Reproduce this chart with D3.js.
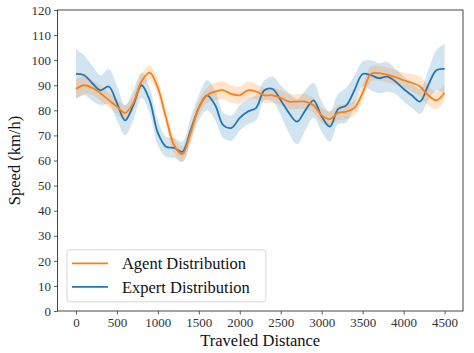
<!DOCTYPE html>
<html>
<head>
<meta charset="utf-8">
<script src="https://cdn.jsdelivr.net/npm/d3@7"></script>
<style>
  body { margin: 0; background: #fff; }
  text { font-family: "Liberation Serif", "Times New Roman", serif; }
</style>
</head>
<body>
<div id="chart"></div>
<script>
const distance = [0, 100, 200, 300, 400, 500, 600, 700, 800, 900,
  1000, 1100, 1200, 1300, 1400, 1500, 1600, 1700, 1800, 1900,
  2000, 2100, 2200, 2300, 2400, 2500, 2600, 2700, 2800, 2900,
  3000, 3100, 3200, 3300, 3400, 3500, 3600, 3700, 3800, 3900,
  4000, 4100, 4200, 4300, 4400, 4500];

const expertMean = [94.5, 94, 90.8, 88, 89.5, 83, 76, 82, 90, 84,
  71, 65.5, 65, 63.5, 72, 81, 86, 82, 74, 73,
  77, 79.5, 81, 88, 88.5, 84, 79, 75.5, 80, 84,
  77.5, 73.5, 80.5, 82, 88, 94.5, 94, 92.8, 93.4, 91.5,
  88.5, 86, 83.5, 90, 96, 96.5];
const expertStd = [10, 8, 7, 6, 7, 7, 6, 6, 5, 5,
  5, 4, 4, 4, 5, 5, 6, 6, 5, 5,
  5, 5, 5, 4, 5, 6, 8, 9, 8, 7,
  6, 6, 6, 7, 6, 5, 6, 6, 6, 5,
  5, 5, 5, 6, 8, 10];

const agentMean = [88.5, 90, 89, 86.8, 84.1, 81.5, 79, 83, 91.5, 95,
  89, 77, 66, 62.5, 71, 81, 86, 87.5, 88, 86.5,
  86, 88, 87.5, 86, 86, 85, 83.5, 83.5, 83.5, 82,
  78, 76.5, 79, 79.5, 81, 87, 94.5, 94.8, 94.2, 93.2,
  92, 91, 89.5, 86, 84, 87];
const agentStd = [4, 3.5, 3, 3, 3, 3, 3, 3, 3, 3,
  3, 3, 3, 3, 3, 3, 3, 3.5, 3.5, 3.5,
  3.5, 3.5, 3, 3, 3, 3, 3, 3, 3, 3,
  3, 3, 3, 3, 3, 3, 3, 3, 3, 3,
  3, 3.5, 4, 4, 3.5, 3.5];

const xTicks = [0, 500, 1000, 1500, 2000, 2500, 3000, 3500, 4000, 4500];
const yTicks = [0, 10, 20, 30, 40, 50, 60, 70, 80, 90, 100, 110, 120];

const series = [
  { name: "Agent Distribution", mean: agentMean, std: agentStd, color: "#ff7f0e" },
  { name: "Expert Distribution", mean: expertMean, std: expertStd, color: "#1f77b4" }
];

const W = 474, H = 353;
const margin = { top: 10, right: 11, bottom: 42, left: 57.5 },
  width = W - margin.left - margin.right,
  height = H - margin.top - margin.bottom;

const svg = d3.select("#chart")
  .append("svg")
  .attr("width", W)
  .attr("height", H)
  .append("g")
  .attr("transform", `translate(${margin.left}, ${margin.top})`);

const x = d3.scaleLinear().domain([-225, 4725]).range([0, width]);
const y = d3.scaleLinear().domain([0, 120]).range([height, 0]);

const curve = d3.curveCatmullRom.alpha(0.5);

// bands first, then lines
[series[1], series[0]].forEach(s => {
  const pts = distance.map((d, i) => ({ d, m: s.mean[i], sd: s.std[i] }));
  svg.append("path")
    .datum(pts)
    .attr("fill", s.color)
    .attr("fill-opacity", 0.2)
    .attr("stroke", "none")
    .attr("d", d3.area().curve(curve)
      .x(p => x(p.d))
      .y0(p => y(p.m - p.sd))
      .y1(p => y(p.m + p.sd)));
});

[series[1], series[0]].forEach(s => {
  const pts = distance.map((d, i) => ({ d, m: s.mean[i] }));
  svg.append("path")
    .datum(pts)
    .attr("fill", "none")
    .attr("stroke", s.color)
    .attr("stroke-width", 1.8)
    .attr("d", d3.line().curve(curve).x(p => x(p.d)).y(p => y(p.m)));
});

// axes
const xAxis = svg.append("g")
  .attr("transform", `translate(0, ${height})`)
  .call(d3.axisBottom(x).tickValues(xTicks).tickSize(3.5).tickPadding(3).tickFormat(d3.format("d")));
const yAxis = svg.append("g")
  .call(d3.axisLeft(y).tickValues(yTicks).tickSize(3.5).tickPadding(3).tickFormat(d3.format("d")));

[xAxis, yAxis].forEach(a => {
  a.attr("font-family", null);
  a.select(".domain").remove();
  a.selectAll("line").attr("stroke", "#333").attr("stroke-width", 0.8);
  a.selectAll("text")
    .style("font-family", "'Liberation Serif', 'Times New Roman', serif")
    .style("font-size", "13px")
    .style("fill", "#333");
});

svg.append("rect")
  .attr("width", width)
  .attr("height", height)
  .attr("fill", "none")
  .attr("stroke", "#333")
  .attr("stroke-width", 0.9);

// axis labels
svg.append("text")
  .attr("transform", `translate(${width / 2}, ${height + 35})`)
  .style("text-anchor", "middle")
  .style("font-size", "16.5px")
  .style("fill", "#111")
  .text("Traveled Distance");

svg.append("text")
  .attr("transform", "rotate(-90)")
  .attr("x", -height / 2)
  .attr("y", -margin.left + 14)
  .attr("dy", "0.35em")
  .style("text-anchor", "middle")
  .style("font-size", "16.5px")
  .style("fill", "#111")
  .text("Speed (km/h)");

// legend
const legend = svg.append("g")
  .attr("transform", `translate(${x(-110)}, ${y(24.4)})`);

legend.append("rect")
  .attr("width", 199)
  .attr("height", 52)
  .attr("rx", 3)
  .attr("fill", "#fff")
  .attr("fill-opacity", 0.8)
  .attr("stroke", "#d0d0d0")
  .attr("stroke-width", 0.9);

series.forEach((s, i) => {
  const row = legend.append("g").attr("transform", `translate(0, ${13.5 + i * 23.5})`);
  row.append("line")
    .attr("x1", 5).attr("x2", 41)
    .attr("stroke", s.color)
    .attr("stroke-width", 1.8);
  row.append("text")
    .attr("x", 55)
    .attr("dy", "0.35em")
    .style("font-size", "16.5px")
    .style("fill", "#111")
    .text(s.name);
});
</script>
</body>
</html>
